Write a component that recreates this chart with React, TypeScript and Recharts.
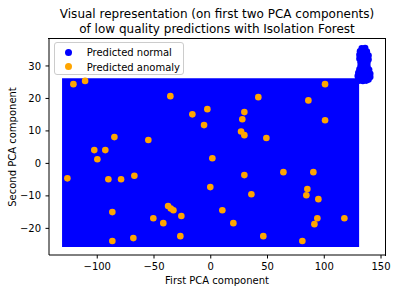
import { ScatterChart, Scatter, XAxis, YAxis, ReferenceArea } from 'recharts';

const FONT = '"DejaVu Sans", sans-serif';
const NORMAL_COLOR = '#0000ff';
const ANOMALY_COLOR = '#ffa500';

// axis ranges and ticks
const xDomain = [-142.5, 153.5];
const yDomain = [-28.2, 38.3];
const xTicks = [-100, -50, 0, 50, 100, 150];
const yTicks = [-20, -10, 0, 10, 20, 30];

// dense cloud of normal predictions (visual extent in PCA units)
const normalCloudX = [-131, 130.7];
const normalCloudY = [-25.7, 26.2];

// separate small cluster of normal points at the top right
const normalBlobX = [
  133, 136, 131.5, 134.5, 137.5, 131, 134, 137, 139, 131, 134, 137, 139, 132, 135, 138,
  132, 135, 138, 131, 134, 137, 139.5, 130, 133, 136, 139, 140.5, 129.5, 132.5, 135.5, 138.5, 140.5,
  130, 133, 136, 139, 131, 134, 137,
];
const normalBlobY = [
  35.4, 35.5, 34.5, 34.6, 34.4, 33.4, 33.5, 33.4, 33.2, 32.2, 32.3, 32.2, 32, 31.1, 31.2, 31,
  30, 30.1, 29.9, 29, 29, 28.9, 28.8, 27.9, 28, 27.9, 27.8, 27.6, 26.9, 26.9, 26.8, 26.8, 26.6,
  25.9, 25.8, 25.8, 25.8, 25.5, 25.4, 25.5,
];

// predicted anomalies
const anomalyX = [
  -121, -110.7, -35.6, -16.2, -3, -5.9, -84.9, -55, 41.9, 86, 29.6, 27.8, 100.7, 100.7, 26.7, 29.6, 49,
  -102.6, -92.9, -99.9, 1.4, -126.3, -90.2, -79, -67.3, -0.4, -86.7, -37.6, -35.2, -32.9, -25.9, -50.6,
  -41.8, -26.8, -86.7, -68.2, 29.6, 64, 90.4, 35.8, 85.1, 84.2, 94.8, 10.2, 19.9, 93.9, 91.3, 117.7, 46.3, 80.7,
];
const anomalyY = [
  24.4, 25.4, 20.7, 15.1, 16.7, 11.8, 8.1, 7.2, 20.4, 19.4, 15.8, 13.6, 24.4, 13.3, 9.8, 8.7, 7.8,
  4.1, 4.1, 1.3, 1.6, -4.6, -4.9, -4.9, -3.8, -7.3, -15, -13.1, -13.9, -14.4, -16.2, -16.9,
  -18.4, -22.4, -23.9, -23, -3.6, -2.7, -2.7, -9.5, -7.9, -9.8, -11, -14.4, -18.4, -16.9, -18.7, -16.9, -22.4, -23.9,
];

const normalBlob = normalBlobX.map((x, i) => ({ x, y: normalBlobY[i] }));
const anomalies = anomalyX.map((x, i) => ({ x, y: anomalyY[i] }));

const formatTick = (v: number) => (v < 0 ? `\u2212${Math.abs(v)}` : `${v}`);

const dot = (color: string) => (props: any) => <circle cx={props.cx} cy={props.cy} r={3.3} fill={color} />;

const tickStyle = { fill: '#000', fontSize: 10, fontFamily: FONT };

export default function App() {
  return (
    <div style={{ position: 'absolute', left: 0, top: 0, width: 398, height: 293, background: '#fff', fontFamily: FONT }}>
      <div
        style={{
          position: 'absolute',
          left: 49,
          top: 7,
          width: 336,
          textAlign: 'center',
          fontSize: 12,
          lineHeight: '15px',
          color: '#000',
          whiteSpace: 'nowrap',
        }}
      >
        <div>Visual representation (on first two PCA components)</div>
        <div>of low quality predictions with Isolation Forest</div>
      </div>
      <ScatterChart width={398} height={293} margin={{ top: 39, right: 13, bottom: 0, left: 0 }}>
        <XAxis
          type="number"
          dataKey="x"
          domain={xDomain}
          ticks={xTicks}
          allowDataOverflow
          height={38}
          tickSize={3.5}
          tickMargin={4.4}
          tick={tickStyle}
          tickFormatter={formatTick}
          axisLine={{ stroke: '#000' }}
          tickLine={{ stroke: '#000' }}
          label={{ value: 'First PCA component', position: 'insideBottom', offset: 9, fill: '#000', fontSize: 10, fontFamily: FONT }}
        />
        <YAxis
          type="number"
          dataKey="y"
          domain={yDomain}
          ticks={yTicks}
          allowDataOverflow
          width={49}
          tickSize={3.5}
          tickMargin={4.5}
          tick={tickStyle}
          tickFormatter={formatTick}
          axisLine={{ stroke: '#000' }}
          tickLine={{ stroke: '#000' }}
          label={{
            value: 'Second PCA component',
            angle: -90,
            position: 'insideLeft',
            offset: 12,
            fill: '#000',
            fontSize: 10,
            fontFamily: FONT,
            style: { textAnchor: 'middle' },
          }}
        />
        <ReferenceArea
          x1={normalCloudX[0]}
          x2={normalCloudX[1]}
          y1={normalCloudY[0]}
          y2={normalCloudY[1]}
          fill={NORMAL_COLOR}
          fillOpacity={1}
          stroke="none"
        />
        <Scatter name="Predicted normal" data={normalBlob} fill={NORMAL_COLOR} shape={dot(NORMAL_COLOR)} isAnimationActive={false} />
        <Scatter name="Predicted anomaly" data={anomalies} fill={ANOMALY_COLOR} shape={dot(ANOMALY_COLOR)} isAnimationActive={false} />
      </ScatterChart>
      {/* top and right spines */}
      <div style={{ position: 'absolute', left: 48, top: 38, width: 338, height: 1, background: '#000', zIndex: 5 }} />
      <div style={{ position: 'absolute', left: 385, top: 38, width: 1, height: 218, background: '#000', zIndex: 5 }} />
      <div
        style={{
          position: 'absolute',
          left: 54,
          top: 42,
          width: 130,
          height: 33,
          boxSizing: 'border-box',
          border: '1px solid #cccccc',
          borderRadius: 3,
          background: 'rgba(255,255,255,0.8)',
          fontSize: 10,
          color: '#000',
          zIndex: 6,
        }}
      >
        {[
          { label: 'Predicted normal', color: NORMAL_COLOR, cy: 10 },
          { label: 'Predicted anomaly', color: ANOMALY_COLOR, cy: 24.5 },
        ].map((item) => (
          <div key={item.label}>
            <span
              style={{
                position: 'absolute',
                left: 9.5,
                top: item.cy - 4.3,
                width: 7,
                height: 7,
                borderRadius: '50%',
                background: item.color,
              }}
            />
            <span style={{ position: 'absolute', left: 31.7, top: item.cy - 6, lineHeight: '12px', whiteSpace: 'nowrap' }}>
              {item.label}
            </span>
          </div>
        ))}
      </div>
    </div>
  );
}
